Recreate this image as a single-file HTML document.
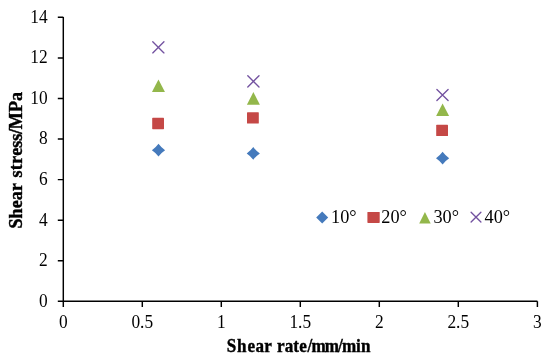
<!DOCTYPE html>
<html><head><meta charset="utf-8">
<style>
html,body{margin:0;padding:0;background:#fff;}
svg{display:block;}
text{font-family:"Liberation Serif","Times New Roman",serif;fill:#000;}
</style></head>
<body>
<svg width="550" height="363" viewBox="0 0 550 363">
<rect width="550" height="363" fill="#fff"/>
<g stroke="#000" stroke-width="1.45" fill="none">
<path d="M63.3 17 V307"/>
<path d="M57.8 301.3 H537.4"/>
<path d="M57.8 17.3H63.3 M57.8 57.9H63.3 M57.8 98.4H63.3 M57.8 139H63.3 M57.8 179.6H63.3 M57.8 220.2H63.3 M57.8 260.7H63.3"/>
<path d="M142.3 301.3V307 M221.3 301.3V307 M300.3 301.3V307 M379.3 301.3V307 M458.3 301.3V307 M537.4 301.3V307"/>
</g>
<g font-size="18.3" text-anchor="end" transform="scale(0.95,1)">
<text x="50.21" y="22.8">14</text>
<text x="50.21" y="63.3">12</text>
<text x="50.21" y="103.8">10</text>
<text x="50.21" y="144.4">8</text>
<text x="50.21" y="185.0">6</text>
<text x="50.21" y="225.6">4</text>
<text x="50.21" y="266.1">2</text>
<text x="50.21" y="306.7">0</text>
</g>
<g font-size="18.3" text-anchor="middle" transform="scale(0.95,1)">
<text x="66.63" y="328.2">0</text>
<text x="149.79" y="328.2">0.5</text>
<text x="232.95" y="328.2">1</text>
<text x="316.11" y="328.2">1.5</text>
<text x="399.26" y="328.2">2</text>
<text x="482.42" y="328.2">2.5</text>
<text x="565.68" y="328.2">3</text>
</g>
<text transform="scale(0.95,1)" x="238.8 249.4 260.4 269.0 278.2 286.2 291.7 299.8 308.7 315.1 323.6 327.9 341.9 355.8 360.0 374.7 380.1" y="352.1" font-size="18.0" font-weight="bold" stroke="#000" stroke-width="0.4">Shear rate/mm/min</text>
<text transform="translate(21.7,228.6) rotate(-90)" font-size="18" font-weight="bold" dx="0 0.15 0.15 0.15 0.15 0.15 1.15 0.25 0.55 0.25 0 0 -0.35 -0.1 0.1 0.15" stroke="#000" stroke-width="0.4">Shear stress/MPa</text>
<!-- series -->
<g fill="#457abc">
<path d="M0 -6.35 Q2.7 -2.6 6.6 0 Q2.7 2.6 0 6.35 Q-2.7 2.6 -6.6 0 Q-2.7 -2.6 0 -6.35Z" transform="translate(158.5,150.2)"/>
<path d="M0 -6.35 Q2.7 -2.6 6.6 0 Q2.7 2.6 0 6.35 Q-2.7 2.6 -6.6 0 Q-2.7 -2.6 0 -6.35Z" transform="translate(253.3,153.4)"/>
<path d="M0 -6.35 Q2.7 -2.6 6.6 0 Q2.7 2.6 0 6.35 Q-2.7 2.6 -6.6 0 Q-2.7 -2.6 0 -6.35Z" transform="translate(442.6,158.2)"/>
<path d="M0 -6 L6 0 L0 6 L-6 0Z" transform="translate(322.2,217.5)"/>
</g>
<g fill="#c54846">
<rect x="152.2" y="117.8" width="11.8" height="11.4" rx="0.6"/>
<rect x="247.0" y="112.2" width="11.8" height="11.4" rx="0.6"/>
<rect x="436.2" y="124.7" width="11.8" height="11.4" rx="0.6"/>
<rect x="367.4" y="212" width="12.3" height="10.9" rx="0.6"/>
</g>
<g fill="#93b74b">
<path d="M0 -6.5 L6.5 6.1 L-6.5 6.1Z" transform="translate(158.45,85.9)"/>
<path d="M0 -6.5 L6.5 6.1 L-6.5 6.1Z" transform="translate(253.4,98.6)"/>
<path d="M0 -6.5 L6.5 6.1 L-6.5 6.1Z" transform="translate(442.6,109.9)"/>
<path d="M0 -5.7 L5.75 5.7 L-5.75 5.7Z" transform="translate(424.95,217.7)"/>
</g>
<g stroke="#7352a0" stroke-width="1.35" fill="none" stroke-linecap="round">
<path d="M-5.6 -5.6 L5.6 5.6 M-5.6 5.6 L5.6 -5.6" transform="translate(158.35,47.3)"/>
<path d="M-5.6 -5.6 L5.6 5.6 M-5.6 5.6 L5.6 -5.6" transform="translate(253.4,81.4)"/>
<path d="M-5.6 -5.6 L5.6 5.6 M-5.6 5.6 L5.6 -5.6" transform="translate(442.5,95)"/>
<path d="M-4.9 -4.9 L4.9 4.9 M-4.9 4.9 L4.9 -4.9" transform="translate(476.0,217.2)"/>
</g>
<g font-size="18.3">
<text x="331" y="222.9">10°</text>
<text x="381.3" y="222.9">20°</text>
<text x="433.4" y="222.9">30°</text>
<text x="484.5" y="222.9">40°</text>
</g>
</svg>
</body></html>
